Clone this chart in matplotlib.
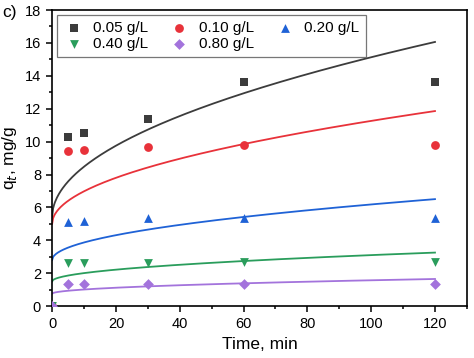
import numpy as np
import matplotlib.pyplot as plt
from matplotlib.ticker import MultipleLocator

plt.rcParams['font.family'] = ['Liberation Sans', 'DejaVu Sans']

# measured uptake points
time = [0, 5, 10, 30, 60, 120]
labels = ["0.05 g/L", "0.10 g/L", "0.20 g/L", "0.40 g/L", "0.80 g/L"]
q_005 = [0, 10.3, 10.55, 11.35, 13.6, 13.65]
q_010 = [0, 9.45, 9.5, 9.7, 9.8, 9.8]
q_020 = [0, 5.1, 5.2, 5.35, 5.35, 5.35]
q_040 = [0, 2.6, 2.65, 2.65, 2.7, 2.7]
q_080 = [0, 1.35, 1.35, 1.35, 1.35, 1.35]

# intraparticle diffusion fit  q = k*sqrt(t) + C
k_fit = [0.973, 0.626, 0.338, 0.160, 0.082]
c_fit = [5.4, 5.0, 2.8, 1.5, 0.75]

markers = ["s", "o", "^", "v", "D"]
colors = ["#3c3c3c", "#e8323a", "#1f62d6", "#2a9d5c", "#a373dc"]
sizes = [30, 40, 40, 40, 30]

fig = plt.figure(figsize=(4.74, 3.58), dpi=100)
ax = fig.add_axes([0.11, 0.145, 0.875, 0.827])

series = [q_005, q_010, q_020, q_040, q_080]
t_line = np.linspace(0, 120, 400)
for k, c, col in zip(k_fit, c_fit, colors):
    ax.plot(t_line, k * np.sqrt(t_line) + c, color=col, lw=1.3, zorder=2)
handles = []
for q, m, col, s, lab in zip(series, markers, colors, sizes, labels):
    h = ax.scatter(time, q, marker=m, color=col, s=s, label=lab, zorder=3, linewidths=0)
    handles.append(h)

ax.set_xlim(0, 130)
ax.set_ylim(0, 18)
ax.xaxis.set_major_locator(MultipleLocator(20))
ax.xaxis.set_minor_locator(MultipleLocator(10))
ax.yaxis.set_major_locator(MultipleLocator(2))
ax.yaxis.set_minor_locator(MultipleLocator(1))
ax.tick_params(which="both", direction="out", labelsize=10.5, width=1.1)
ax.tick_params(which="major", length=4.5)
ax.tick_params(which="minor", length=2.5)
for sp in ax.spines.values():
    sp.set_linewidth(1.2)

ax.set_xlabel("Time, min", fontsize=12.5)
ax.set_ylabel("q$_t$, mg/g", fontsize=12.5)
fig.text(0.005, 0.965, "c)", fontsize=12.5, va="center")

# row-major legend order
order = [0, 3, 1, 4, 2]
leg = ax.legend([handles[i] for i in order], [labels[i] for i in order],
                loc="upper left", ncol=3, fontsize=11, frameon=True, fancybox=False,
                edgecolor="#555555", handletextpad=0.6, columnspacing=1.3,
                borderaxespad=0.3, handlelength=1.4, labelspacing=0.15)
leg.get_frame().set_linewidth(0.9)

fig.savefig("out.png", dpi=100)
